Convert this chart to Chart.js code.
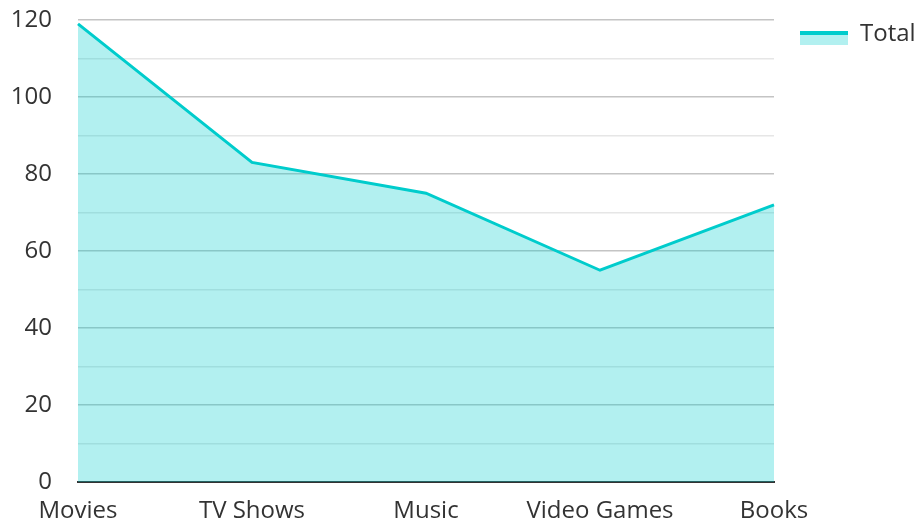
<!DOCTYPE html>
<html>
<head>
<meta charset="utf-8">
<script src="https://cdn.jsdelivr.net/npm/chart.js@4.4.0/dist/chart.umd.min.js"></script>
<style>
  html, body { margin: 0; padding: 0; background: #fff; }
  #wrap { width: 915px; height: 524px; }
</style>
</head>
<body>
<div id="wrap"><canvas id="chart"></canvas></div>
<script>
const categories = ['Movies', 'TV Shows', 'Music', 'Video Games', 'Books'];
const totalValues = [119, 83, 75, 55, 72];
const seriesName = 'Total';

const lineColor = '#00cccc';
const fillColor = 'rgba(0, 204, 204, 0.3)';

// legend swatch: thick line on top, light fill below (transparent top margin to sit a bit lower)
function makeSwatch() {
    const c = document.createElement('canvas');
    c.width = 48;
    c.height = 22;
    const g = c.getContext('2d');
    g.fillStyle = fillColor;
    g.fillRect(0, 12, 48, 10);
    g.fillStyle = lineColor;
    g.fillRect(0, 8, 48, 4);
    return c;
}
const swatch = makeSwatch();

// nudge the legend box towards the right edge
const legendNudge = {
    id: 'legendNudge',
    afterLayout(chart) {
        if (chart.legend) {
            chart.legend.left += 16;
            chart.legend.right += 16;
        }
    }
};

Chart.defaults.font.family = '"Open Sans", "Noto Sans", sans-serif';
Chart.defaults.color = '#333';

const ctx = document.getElementById('chart').getContext('2d');
new Chart(ctx, {
    type: 'line',
    data: {
        labels: categories,
        datasets: [{
            label: seriesName,
            data: totalValues,
            borderColor: lineColor,
            backgroundColor: fillColor,
            borderWidth: 3,
            tension: 0,
            fill: 'origin',
            pointRadius: 0
        }]
    },
    plugins: [legendNudge],
    options: {
        responsive: true,
        maintainAspectRatio: false,
        animation: false,
        layout: {
            padding: { top: 0, right: 0, bottom: 0, left: 0 }
        },
        plugins: {
            tooltip: { enabled: false },
            legend: {
                position: 'right',
                align: 'start',
                title: { display: true, text: ' ', font: { size: 10 }, padding: 0 },
                labels: {
                    usePointStyle: true,
                    pointStyleWidth: 48,
                    boxHeight: 22,
                    font: { size: 24 },
                    color: '#333',
                    padding: 10,
                    generateLabels: (chart) => [{
                        text: seriesName,
                        pointStyle: swatch,
                        fillStyle: fillColor,
                        strokeStyle: lineColor,
                        lineWidth: 0,
                        datasetIndex: 0
                    }]
                }
            }
        },
        scales: {
            x: {
                offset: false,
                grid: { display: false, drawTicks: false },
                border: { display: true, color: '#333', width: 2 },
                ticks: {
                    font: { size: 24 },
                    color: '#333',
                    padding: 15,
                    maxRotation: 0,
                    autoSkip: false
                },
                afterFit: (scale) => {
                    scale.height = 42;
                    scale.paddingRight = 141;
                }
            },
            y: {
                min: 0,
                max: 120,
                grid: {
                    drawTicks: false,
                    color: (c) => (c.tick && c.tick.value % 20 === 0) ? '#c4c4c4' : '#e6e6e6',
                    lineWidth: 1.5
                },
                border: { display: false },
                ticks: {
                    stepSize: 10,
                    autoSkip: false,
                    font: { size: 24 },
                    color: '#333',
                    padding: 26,
                    callback: (v) => (v % 20 === 0 ? v : '')
                },
                afterFit: (scale) => {
                    scale.width = 78;
                    scale.paddingTop = 20;
                }
            }
        }
    }
});
</script>
</body>
</html>
